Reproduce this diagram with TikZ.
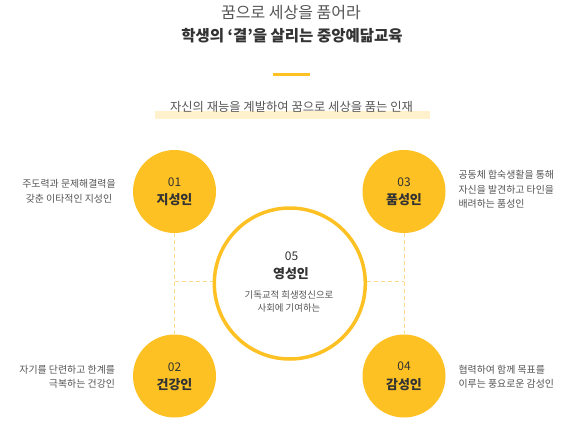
\documentclass[tikz,border=0pt]{standalone}
\usepackage{fontspec}
\setmainfont{Noto Sans CJK KR}
\definecolor{ylw}{HTML}{FDC123}
\definecolor{ylwline}{HTML}{FCD88A}
\definecolor{band}{HTML}{FFF1CC}
\definecolor{dark}{HTML}{333333}
\definecolor{mid}{HTML}{555555}
\begin{document}
\begin{tikzpicture}[x=1pt,y=-1pt,
  pdot/.style={circle,fill=ylw,minimum size=83pt,inner sep=0pt},
  pnum/.style={font=\fontsize{12}{12}\selectfont,text=dark},
  pname/.style={font=\fontsize{13}{13}\selectfont\bfseries,text=dark},
  pdesc/.style={font=\fontsize{9.9}{14.5}\selectfont,text=mid},
  dline/.style={ylwline,line width=0.9pt,dash pattern=on 4pt off 3pt}]
\useasboundingbox (0,0) rectangle (580,425);
\fill[white] (0,0) rectangle (580,425);
% titles
\node[font=\fontsize{16}{16}\selectfont,text=mid] (t1) at (291,13) {꿈으로 세상을 품어라};
\node[font=\fontsize{15.5}{16}\selectfont\bfseries,text=dark] (t2) at (292,36) {학생의 ‘결’을 살리는 중앙예닮교육};
\fill[ylw] (273,72.8) rectangle (310,75.8);
\fill[band] (155,111) rectangle (430,118.5);
\node[font=\fontsize{12.3}{12}\selectfont,text=mid] (sub) at (291.5,106.5) {자신의 재능을 계발하여 꿈으로 세상을 품는 인재};
% circles
\node[pdot] (c1) at (174.5,191.5) {};
\node[pdot] (c3) at (404,191.5) {};
\node[pdot] (c2) at (174.5,376) {};
\node[pdot] (c4) at (404,376) {};
\node[circle,draw=ylw,line width=3.5pt,fill=white,minimum size=151pt,inner sep=0pt] (c5) at (289.8,283.5) {};
% dashed connectors
\draw[dline] (c1.south) -- (c2.north);
\draw[dline] (c3.south) -- (c4.north);
\coordinate (hl) at (174.5,281);
\coordinate (hr) at (404,281);
\draw[dline] (hl) -- (c5.west |- hl);
\draw[dline] (c5.east |- hr) -- (hr);
% circle labels
\node[pnum] (n1) at (174.5,182) {01};
\node[pname] (m1) at (174.5,200) {지성인};
\node[pnum] (n3) at (404,182) {03};
\node[pname] (m3) at (404,200) {품성인};
\node[pnum] (n2) at (174.5,367) {02};
\node[pname] (m2) at (174.5,385) {건강인};
\node[pnum] (n4) at (404,366) {04};
\node[pname] (m4) at (404,385) {감성인};
\node[pnum] (n5) at (291.5,256) {05};
\node[pname] (m5) at (291,273.5) {영성인};
\node[pdesc,font=\fontsize{9.4}{13.5}\selectfont,align=center] (d5) at (289,301.5) {기독교적 희생정신으로\\사회에 기여하는};
% side descriptions
\node[pdesc,align=center] (d1) at (69,191.5) {주도력과 문제해결력을\\갖춘 이타적인 지성인};
\node[pdesc,align=right,anchor=east] (d2) at (118.5,377) {자기를 단련하고 한계를\\극복하는 건강인};
\node[pdesc,align=left,anchor=west] (d3) at (455,189.5) {공동체 합숙생활을 통해\\자신을 발견하고 타인을\\배려하는 품성인};
\node[pdesc,align=left,anchor=west] (d4) at (455,377) {협력하여 함께 목표를\\이루는 풍요로운 감성인};
\end{tikzpicture}
\end{document}
